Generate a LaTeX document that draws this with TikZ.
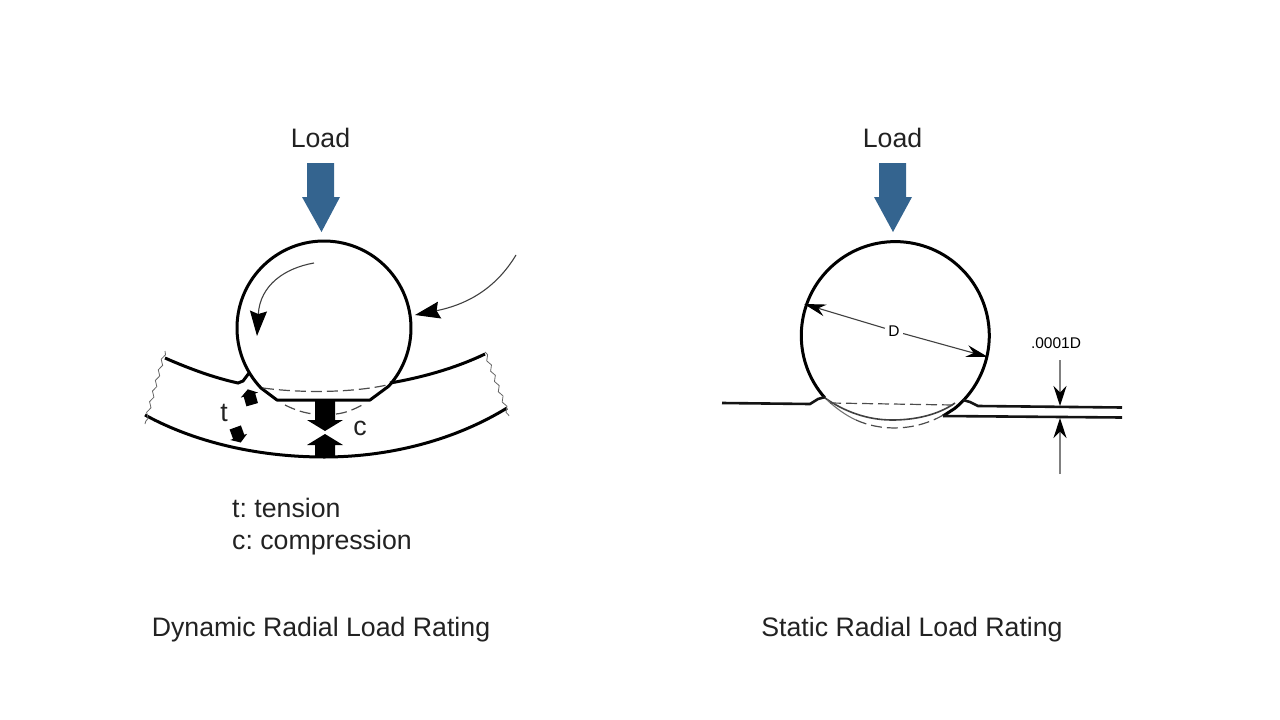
\documentclass[tikz,border=0pt]{standalone}
\usepackage{fontspec}
\setmainfont{Liberation Sans}
\frenchspacing
\usetikzlibrary{arrows.meta, decorations.pathmorphing}
\definecolor{loadblue}{HTML}{34648F}
\definecolor{inktext}{HTML}{222222}
\tikzset{>={Stealth[length=25pt,width=17pt,inset=3pt,black]}}
\tikzset{
  bigtext/.style={text=inktext, inner sep=0pt, font=\fontsize{26.7}{32}\selectfont},
  midtext/.style={text=inktext, inner sep=0pt, font=\fontsize{26.7}{32}\selectfont},
  smalltext/.style={text=black, font=\fontsize{15.5}{18}\selectfont},
  outline/.style={line width=3pt, black},
  racethin/.style={line width=2.6pt, black!92},
  thinline/.style={line width=1.1pt, black!75},
  hidden/.style={line width=1.2pt, black!70, dash pattern=on 11pt off 5pt},
  breakline/.style={line width=.8pt, black!60, decorate, decoration={snake, amplitude=1.5pt, segment length=11pt}},
  loadarrow/.style={fill=loadblue, draw=none},
  stressarrow/.style={fill=black, draw=none}
}
\begin{document}
\begin{tikzpicture}[x=1pt, y=-1pt]
\useasboundingbox (0,0) rectangle (1280,720);
% left picture
\node[bigtext] (loadleft) at (320.5,137.5) {Load};
\fill[loadarrow] (307,163) -- (334,163) -- (334,197) -- (340,197) -- (321.5,232) -- (302,197) -- (307,197) -- cycle;
\draw[outline, line join=round] (261,388) arc[start angle=136.4, end angle=402, radius=87] -- (370,400) -- (277,400) -- cycle;
\draw[outline] (165,358) .. controls (190,369) and (215,378) .. (238,383) -- (243,381) -- (249,373);
\draw[outline] (390,383) .. controls (425,377) and (458,367) .. (485,354);
\draw[outline] (145,415) .. controls (200,445) and (265,457) .. (324,457) .. controls (390,457) and (455,440) .. (507,408);
\draw[breakline] (165,351) -- (145,424);
\draw[breakline] (485,352) -- (509,416);
\draw[hidden] (263,388) .. controls (300,393) and (350,393) .. (387,385);
\draw[hidden] (285,405) .. controls (295,410) and (304,413) .. (314,414);
\draw[hidden] (336,414) .. controls (346,413) and (355,409) .. (364,404);
% stress arrows
\fill[stressarrow] (315,400) -- (335,400) -- (335,420) -- (343,420) -- (325,431) -- (307,420) -- (315,420) -- cycle;
\fill[stressarrow] (315,457) -- (335,457) -- (335,445) -- (343,445) -- (325,434) -- (307,445) -- (315,445) -- cycle;
\fill[stressarrow, shift={(250,397)}, rotate=16] (-6,8) -- (6,8) -- (6,-2) -- (9,-2) -- (0,-8) -- (-9,-2) -- (-6,-2) -- cycle;
\fill[stressarrow, shift={(238,435)}, rotate=200] (-6,8) -- (6,8) -- (6,-2) -- (9,-2) -- (0,-8) -- (-9,-2) -- (-6,-2) -- cycle;
\node[midtext] (tlabel) at (224,413) {t};
\node[midtext] (clabel) at (360,428) {c};
% rotation arrows
\coordinate (spinstart) at (314,263);
\coordinate (spintip) at (257,336);
\draw[->, thinline] (spinstart) .. controls (285,268) and (260,285) .. (spintip);
\coordinate (sweepstart) at (516,255);
\coordinate (sweeptip) at (415,315);
\draw[->, thinline] (sweepstart) .. controls (495,290) and (465,305) .. (sweeptip);
\node[midtext, anchor=base west] (tkey) at (232,517.5) {t: tension};
\node[midtext, anchor=base west] (ckey) at (232,549.5) {c: compression};
\node[bigtext] (dyntitle) at (321,629.5) {Dynamic Radial Load Rating};
% right picture
\node[bigtext] (loadright) at (892.5,137.5) {Load};
\fill[loadarrow] (879,163) -- (906,163) -- (906,197) -- (912,197) -- (893,232) -- (874,197) -- (879,197) -- cycle;
\draw[outline] (825,398) arc[start angle=138.4, end angle=411, radius=94] -- (943,416);
\draw[thinline, line width=1.6pt] (825,398) .. controls (845,412) and (868,420) .. (892,420) .. controls (915,420) and (938,415) .. (955,403);
\draw[thinline, black!55] (827,400) .. controls (836,408) and (845,415) .. (856,420);
\draw[hidden] (856,420) .. controls (880,431) and (915,432) .. (945,414);
\draw[hidden] (830,403) -- (953,405);
\draw[racethin] (722,403) -- (810,404) -- (818,399) -- (825,397);
\draw[racethin] (963,400) -- (970,402) -- (978,406) -- (1122,407.5);
\draw[racethin] (943,416) -- (1122,417.5);
\node[smalltext] (dlabel) at (894,331) {D};
\coordinate (dleft) at (804,304);
\coordinate (dright) at (988,357);
\draw[->, thinline, >={Stealth[length=22pt,width=12pt,black]}] (dlabel) -- (dleft);
\draw[->, thinline, >={Stealth[length=22pt,width=12pt,black]}] (dlabel) -- (dright);
\node[smalltext] (gaplabel) at (1056,343) {.0001D};
\coordinate (gaptop) at (1060,406);
\coordinate (gapbottom) at (1060,418);
\coordinate (gapend) at (1060,474);
\draw[->, line width=1.3pt, black!50, >={Stealth[length=20pt,width=13pt,black]}] (1060,360) -- (gaptop);
\draw[->, line width=1.3pt, black!50, >={Stealth[length=20pt,width=13pt,black]}] (gapend) -- (gapbottom);
\node[bigtext] (stattitle) at (912,629.5) {Static Radial Load Rating};
\end{tikzpicture}
\end{document}
